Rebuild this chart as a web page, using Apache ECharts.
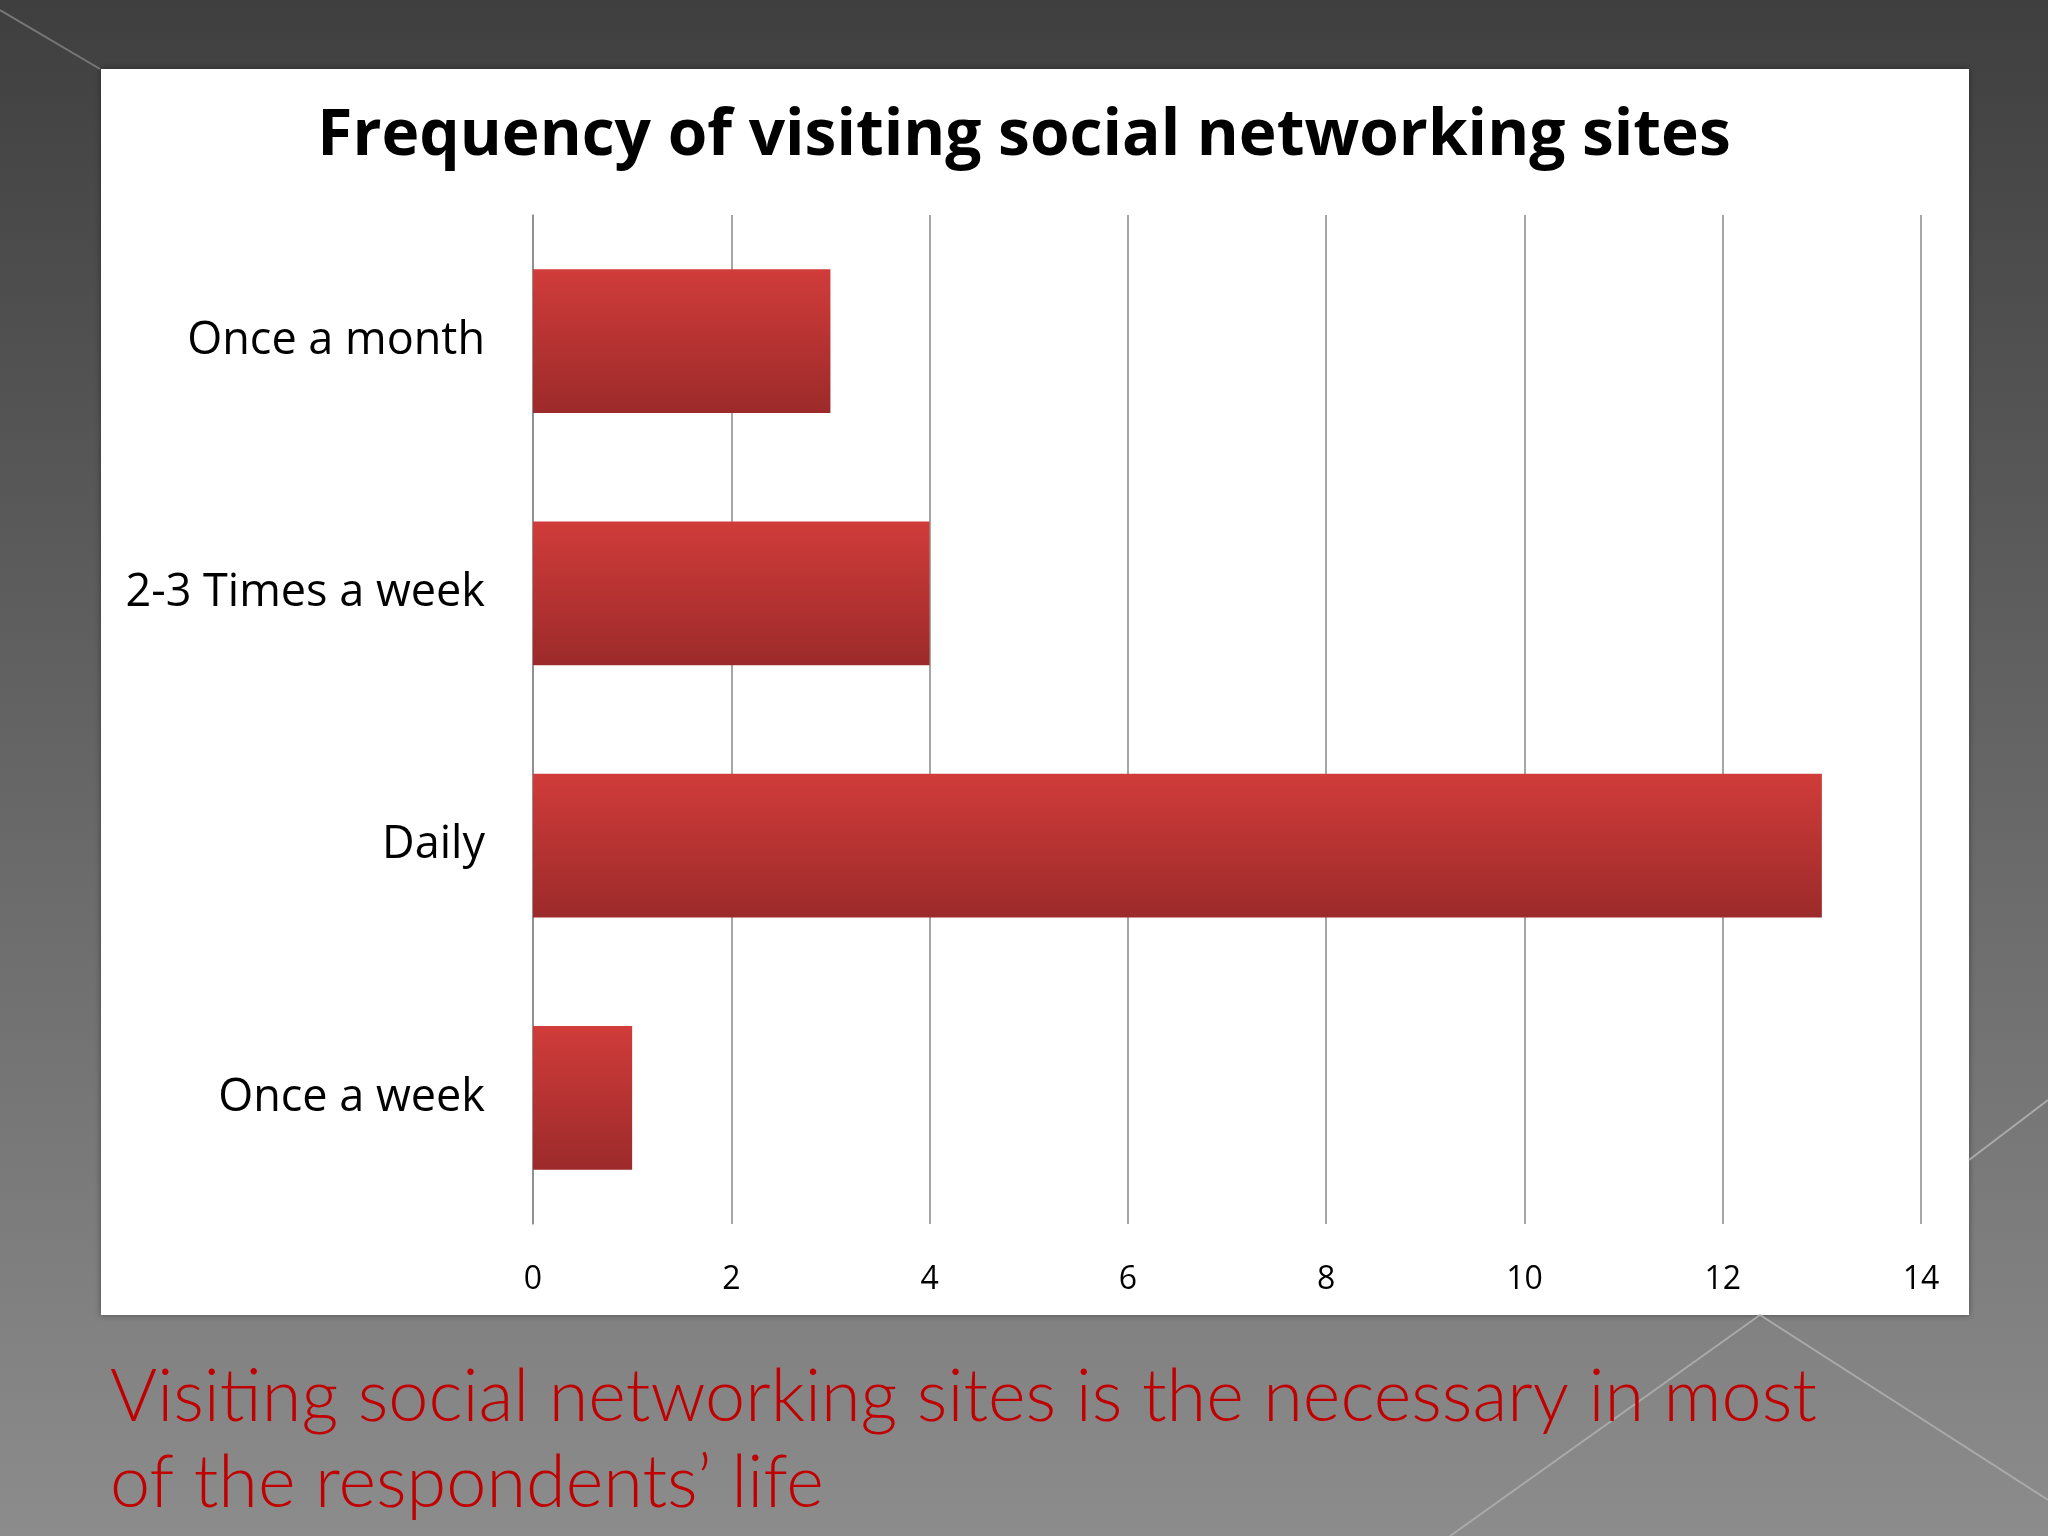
<!DOCTYPE html>
<html><head><meta charset="utf-8">
<script src="https://cdn.jsdelivr.net/npm/echarts@6/dist/echarts.min.js"></script>
<style>html,body{margin:0;padding:0;}#main{width:2048px;height:1536px;}</style>
</head><body><div id="main"></div>
<script>
var categories = ['Once a week', 'Daily', '2-3 Times a week', 'Once a month'];
var counts = [1, 13, 4, 3];
var xTicks = [0, 14, 2];

var chart = echarts.init(document.getElementById('main'));
chart.setOption({
  backgroundColor: new echarts.graphic.LinearGradient(0, 0, 0, 1, [
    {offset: 0, color: '#3f3f3f'}, {offset: 1, color: '#8c8c8c'}]),
  graphic: [
    {type: 'line', shape: {x1: 0, y1: 10, x2: 100, y2: 69}, style: {stroke: '#777', lineWidth: 2}},
    {type: 'line', shape: {x1: 1969, y1: 1160, x2: 2048, y2: 1100}, style: {stroke: '#aaa', lineWidth: 2}},
    {type: 'line', shape: {x1: 1450, y1: 1536, x2: 1760, y2: 1315}, style: {stroke: '#aaa', lineWidth: 2}},
    {type: 'line', shape: {x1: 1760, y1: 1315, x2: 2048, y2: 1500}, style: {stroke: '#aaa', lineWidth: 2}},
    {type: 'rect', z: -1, shape: {x: 101, y: 69, width: 1868, height: 1246},
     style: {fill: '#ffffff', shadowBlur: 6, shadowColor: 'rgba(0,0,0,0.4)'}},
    {type: 'text', left: 110, top: 1355, style: {
      text: 'Visiting social networking sites is the necessary in most\nof the respondents\u2019 life',
      fill: '#c00000', font: '300 72px Lato', lineHeight: 86}}
  ],
  title: {text: 'Frequency of visiting social networking sites', left: 'center', top: 100,
    textStyle: {fontFamily: 'Open Sans', fontWeight: 'bold', fontSize: 64, color: '#000'}},
  grid: {left: 533, right: 127, top: 215, bottom: 312, containLabel: false},
  xAxis: {type: 'value', min: xTicks[0], max: xTicks[1], interval: xTicks[2],
    axisLine: {show: false}, axisTick: {show: false},
    axisLabel: {fontFamily: 'Open Sans', fontSize: 32, color: '#000', margin: 40},
    splitLine: {lineStyle: {color: '#888', width: 1.5}}},
  yAxis: {type: 'category', data: categories,
    axisLine: {lineStyle: {color: '#888', width: 1.5}}, axisTick: {show: false},
    axisLabel: {fontFamily: 'Open Sans', fontSize: 45, color: '#000', margin: 48}},
  series: [{type: 'bar', data: counts, barWidth: '57%',
    itemStyle: {color: new echarts.graphic.LinearGradient(0, 0, 0, 1, [
      {offset: 0, color: '#d03c3a'}, {offset: 1, color: '#9c2a2a'}]),
      shadowBlur: 4, shadowColor: 'rgba(0,0,0,0.35)', shadowOffsetY: 2}}]
});
</script></body></html>
